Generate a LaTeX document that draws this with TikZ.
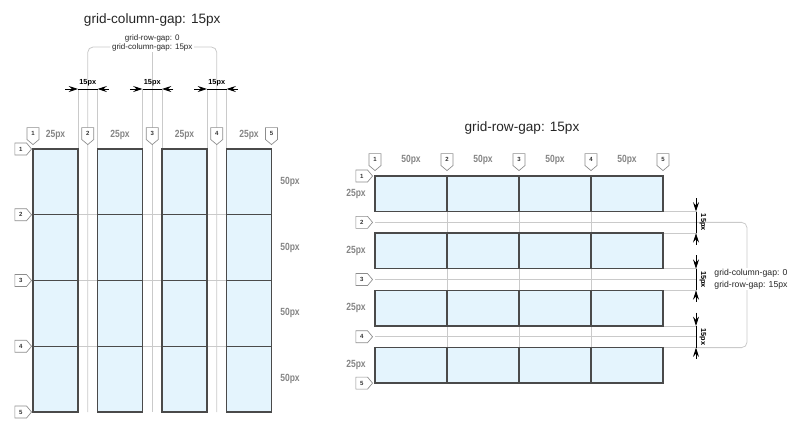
\documentclass[tikz,border=0pt]{standalone}
\usepackage{fontspec}
\setmainfont{Liberation Sans}
\newfontfamily\narrowfont{Liberation Sans}[FakeStretch=0.82]
\usetikzlibrary{arrows.meta,shapes.symbols}

\definecolor{cellfill}{HTML}{E4F4FD}
\definecolor{cellline}{HTML}{4A4A4A}
\definecolor{guideline}{HTML}{CACACA}
\definecolor{tagline}{HTML}{8C8C8C}
\definecolor{labelgray}{HTML}{858585}

\tikzset{
  cell/.style={draw=cellline, fill=cellfill, line width=1.1pt},
  guide/.style={draw=guideline, line width=0.6pt},
  gaparrow/.style={-{Stealth[length=7pt,width=4.5pt,inset=2.5pt]}, line width=0.6pt},
  gapline/.style={line width=0.6pt},
  coltag/.style={shape=signal, signal to=south, signal from=nowhere,
    signal pointer angle=100, draw=tagline, fill=white, line width=0.5pt,
    inner sep=0pt, minimum width=9pt, minimum height=10pt, anchor=south,
    text=black!80, font=\bfseries\fontsize{4.5}{5}\selectfont},
  rowtag/.style={shape=signal, signal to=east, signal from=nowhere,
    signal pointer angle=100, draw=tagline, fill=white, line width=0.5pt,
    inner sep=0pt, minimum width=12.5pt, minimum height=9pt, anchor=east,
    text=black!80, font=\bfseries\fontsize{4.5}{5}\selectfont},
  sizelabel/.style={text=labelgray, inner sep=0pt,
    font=\narrowfont\bfseries\fontsize{7.8}{8}\selectfont},
  gaplabel/.style={inner sep=0.5pt, font=\bfseries\fontsize{5.5}{6}\selectfont},
  titletext/.style={text=black!85, font=\fontsize{10.2}{12}\selectfont},
  notetext/.style={fill=white, inner sep=1pt, text=black!85},
}

\begin{document}
\begin{tikzpicture}[x=0.75pt,y=-0.75pt]

\useasboundingbox (0,0) rectangle (800,433);

% ---- grid-column-gap ----
\node[titletext] (titleA) at (152.25,20) {grid-column-gap: 15px};
\node[notetext, font=\fontsize{6}{7}\selectfont] (rowgapA) at (152.25,38) {grid-row-gap: 0};
\node[notetext, font=\fontsize{6}{7}\selectfont] (colgapA) at (152.25,47) {grid-column-gap: 15px};

\foreach \i in {1,2,3}
  \draw[guide] (33,{149+65.75*\i}) -- (271.5,{149+65.75*\i});
\foreach \i in {0,1,2} {
  \draw[guide] ({78+64.5*\i},89) -- ({78+64.5*\i},412);
  \draw[guide] ({97.5+64.5*\i},89) -- ({97.5+64.5*\i},412);
}
\draw[guide, rounded corners=4pt] (colgapA.west) -| (87.75,412);
\draw[guide, rounded corners=4pt] (colgapA.east) -| (216.75,412);
\draw[guide] (colgapA.south) -- (152.25,412);

\foreach \c in {0,...,3}
  \foreach \r in {0,...,3}
    \draw[cell] ({33+64.5*\c},{149+65.75*\r}) rectangle ++(45,65.75);

\foreach \i in {1,2,3} {
  \coordinate (gl\i) at ({13.5+64.5*\i},89);
  \coordinate (gr\i) at ({33+64.5*\i},89);
  \draw[gaparrow] ([xshift=-9.5pt]gl\i) -- (gl\i);
  \draw[gaparrow] ([xshift=8.5pt]gr\i) -- (gr\i);
  \draw[gapline] (gl\i) -- (gr\i);
  \node[gaplabel] (gwA\i) at ({23.25+64.5*\i},83) {15px};
}

\foreach \x [count=\n] in {33,87.75,152.25,216.75,271.5}
  \node[coltag] (ctA\n) at (\x,145) {\n};
\foreach \y [count=\n] in {149,214.75,280.5,346.25,412}
  \node[rowtag] (rtA\n) at (32,\y) {\n};

\foreach \x [count=\n] in {55.5,120,184.5,249}
  \node[sizelabel] (cwA\n) at (\x,135) {25px};
\foreach \y [count=\n] in {182,247.6,313.4,379}
  \node[sizelabel] (rhA\n) at (290,\y) {50px};

% ---- grid-row-gap ----
\node[titletext] (titleB) at (522,128) {grid-row-gap: 15px};

\foreach \x in {447,519,591}
  \draw[guide] (\x,176) -- (\x,383.1);
\foreach \k in {0,1,2} {
  \draw[guide] (375,{222.35+57.2*\k}) -- (697,{222.35+57.2*\k});
  \draw[guide] (663,{211.5+57.2*\k}) -- (697,{211.5+57.2*\k});
  \draw[guide] (663,{233.2+57.2*\k}) -- (697,{233.2+57.2*\k});
}
\draw[guide, rounded corners=4pt] (697,222.35) -- (747,222.35) -- (747,347.6) -- (697,347.6);
\node[notetext, font=\fontsize{6.5}{7.5}\selectfont] (colgapB) at (751,273) {grid-column-gap: 0};
\node[notetext, font=\fontsize{6.5}{7.5}\selectfont] (rowgapB) at (751,285) {grid-row-gap: 15px};

\foreach \c in {0,...,3}
  \foreach \r in {0,...,3}
    \draw[cell] ({375+72*\c},{176+57.2*\r}) rectangle ++(72,35.5);

\foreach \k in {1,2,3} {
  \coordinate (gb\k) at (696,{154.3+57.2*\k});
  \coordinate (gt\k) at (696,{176+57.2*\k});
  \draw[gaparrow] ([yshift=10pt]gb\k) -- (gb\k);
  \draw[gaparrow] ([yshift=-8.5pt]gt\k) -- (gt\k);
  \draw[gapline] (gb\k) -- (gt\k);
  \node[gaplabel, rotate=-90] (ghB\k) at (703,{165.15+57.2*\k}) {15px};
}

\foreach \x [count=\n] in {375,447,519,591,663}
  \node[coltag] (ctB\n) at (\x,171) {\n};
\foreach \y [count=\n] in {176,222.35,279.55,336.75,383.1}
  \node[rowtag] (rtB\n) at (373,\y) {\n};

\foreach \x [count=\n] in {411,483,555,627}
  \node[sizelabel] (cwB\n) at (\x,160) {50px};
\foreach \y [count=\n] in {193.75,251,308.15,365.35}
  \node[sizelabel] (rhB\n) at (356,\y) {25px};

\end{tikzpicture}
\end{document}
